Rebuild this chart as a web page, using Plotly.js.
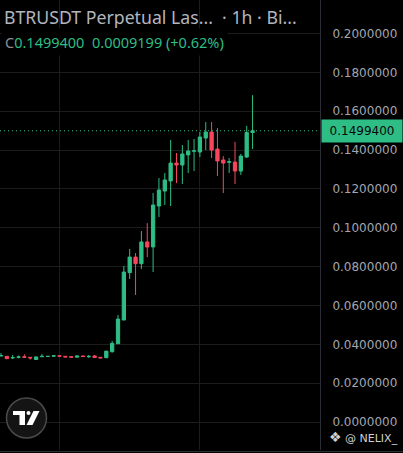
<!DOCTYPE html>
<html><head><meta charset="utf-8">
<script src="https://cdn.plot.ly/plotly-3.0.1.min.js"></script>
<style>html,body{margin:0;padding:0;background:#000;overflow:hidden}</style>
</head><body><div id="chart" style="width:403px;height:453px"></div>
<script>
// ---- data (1h candles) ----
const times = [
 '2025-06-01 14:00','2025-06-01 15:00','2025-06-01 16:00','2025-06-01 17:00','2025-06-01 18:00',
 '2025-06-01 19:00','2025-06-01 20:00','2025-06-01 21:00','2025-06-01 22:00','2025-06-01 23:00',
 '2025-06-02 00:00','2025-06-02 01:00','2025-06-02 02:00','2025-06-02 03:00','2025-06-02 04:00',
 '2025-06-02 05:00','2025-06-02 06:00','2025-06-02 07:00','2025-06-02 08:00','2025-06-02 09:00',
 '2025-06-02 10:00','2025-06-02 11:00','2025-06-02 12:00','2025-06-02 13:00','2025-06-02 14:00',
 '2025-06-02 15:00','2025-06-02 16:00','2025-06-02 17:00','2025-06-02 18:00','2025-06-02 19:00',
 '2025-06-02 20:00','2025-06-02 21:00','2025-06-02 22:00','2025-06-02 23:00','2025-06-03 00:00',
 '2025-06-03 01:00','2025-06-03 02:00','2025-06-03 03:00','2025-06-03 04:00','2025-06-03 05:00',
 '2025-06-03 06:00','2025-06-03 07:00','2025-06-03 08:00','2025-06-03 09:00'
];
const open = [
 0.0340,0.0338,0.0330,0.0333,0.0336,0.0333,0.0322,0.0336,0.0337,0.0339,
 0.0341,0.0338,0.0336,0.0334,0.0340,0.0336,0.0340,0.0333,0.0331,0.0362,
 0.0403,0.0525,0.0769,0.0849,0.0815,0.0927,0.0901,0.1112,0.1189,0.1241,
 0.1333,0.1323,0.1375,0.1394,0.1390,0.1462,0.1493,0.1405,0.1349,0.1337,
 0.1338,0.1292,0.1364,0.14902
];
const high = [
 0.0355,0.0340,0.0345,0.0342,0.0348,0.0334,0.0336,0.0350,0.0340,0.0342,
 0.0342,0.0339,0.0337,0.0341,0.0341,0.0345,0.0345,0.0334,0.0366,0.0417,
 0.0551,0.0803,0.0891,0.0870,0.0983,0.1024,0.1179,0.1256,0.1282,0.1452,
 0.1385,0.1426,0.1452,0.1457,0.1493,0.1544,0.1544,0.1513,0.1369,0.1359,
 0.1442,0.1380,0.1524,0.1683
];
const low = [
 0.0338,0.0325,0.0324,0.0328,0.0331,0.0322,0.0321,0.0335,0.0336,0.0338,
 0.0338,0.0334,0.0333,0.0333,0.0336,0.0330,0.0331,0.0329,0.0329,0.0357,
 0.0402,0.0525,0.0736,0.0654,0.0788,0.0849,0.0772,0.1055,0.1117,0.1112,
 0.1230,0.1225,0.1282,0.1292,0.1364,0.1400,0.1359,0.1266,0.1179,0.1282,
 0.1225,0.1272,0.1359,0.1405
];
const close = [
 0.0342,0.0326,0.0332,0.0335,0.0333,0.0330,0.0335,0.0338,0.0338,0.0341,
 0.0339,0.0335,0.0334,0.0340,0.0337,0.0338,0.0332,0.0330,0.0365,0.0405,
 0.0530,0.0772,0.0849,0.0815,0.0927,0.0901,0.1117,0.1194,0.1246,0.1333,
 0.1323,0.1380,0.1395,0.1396,0.1467,0.1493,0.1400,0.1344,0.1333,0.1340,
 0.1292,0.1369,0.14902,0.14994
];
const yTicks = [0,0.02,0.04,0.06,0.08,0.10,0.12,0.14,0.16,0.18,0.20];
const symbolTitle = 'BTRUSDT Perpetual Las...  \u00b7 1h \u00b7 Bi...';
const lastPrice = 0.14994;
const change = 0.0009199;
const changePct = 0.62;
const watermarkIcon = '\u2756';
const watermarkText = ' @ NELIX_';

// ---- style ----
const GREEN = '#2ebd85', RED = '#f6465d', GRID = '#1c1c1c', AXIS = '#2b2e36';
const W = 403, H = 453, PW = 320, PH = 450;
const px = x => x / PW, py = y => 1 - y / PH;

const trace = {
  type: 'candlestick', x: times, open: open, high: high, low: low, close: close,
  increasing: {line: {color: GREEN, width: 1}, fillcolor: GREEN},
  decreasing: {line: {color: RED, width: 1}, fillcolor: RED},
  whiskerwidth: 0, hoverinfo: 'skip', showlegend: false
};

const P = (x, y) => px(x) + ',' + py(y);
const shapes = [
  {type: 'line', xref: 'paper', x0: 0, x1: 1, yref: 'y', y0: lastPrice, y1: lastPrice,
   line: {color: GREEN, width: 1, dash: '1px,3px'}},
  {type: 'line', xref: 'paper', x0: 0, x1: px(W), yref: 'paper', y0: py(451.5), y1: py(451.5),
   line: {color: AXIS, width: 1}},
  {type: 'circle', xref: 'paper', yref: 'paper', x0: px(6.5), x1: px(46.5), y0: py(398), y1: py(438),
   fillcolor: '#141414', line: {color: '#4a4a4a', width: 1.5}},
  {type: 'path', xref: 'paper', yref: 'paper', fillcolor: '#ffffff', line: {width: 0},
   path: 'M' + P(13, 411) + 'L' + P(25, 411) + 'L' + P(25, 425) + 'L' + P(19.5, 425) + 'L' + P(19.5, 415) + 'L' + P(13, 415) + 'Z'},
  {type: 'circle', xref: 'paper', yref: 'paper', x0: px(26.5), x1: px(30.5), y0: py(411), y1: py(415),
   fillcolor: '#ffffff', line: {width: 0}},
  {type: 'path', xref: 'paper', yref: 'paper', fillcolor: '#ffffff', line: {width: 0},
   path: 'M' + P(33.5, 411) + 'L' + P(39.5, 411) + 'L' + P(32.5, 425) + 'L' + P(26.5, 425) + 'Z'}
];

const annotations = [
  {xref: 'paper', yref: 'paper', x: px(2), y: py(17), xanchor: 'left', yanchor: 'middle',
   text: symbolTitle, showarrow: false, font: {family: 'Noto Sans', size: 17.7, color: '#b2b5be'}},
  {xref: 'paper', yref: 'paper', x: px(1), y: py(42), xanchor: 'left', yanchor: 'middle',
   text: '<span style="color:#8a8d96">C</span>' + lastPrice.toFixed(7) + '  ' + change.toFixed(7) +
         ' (+' + changePct.toFixed(2) + '%)',
   showarrow: false, bgcolor: '#000', borderpad: 3,
   font: {family: 'Noto Sans', size: 14.5, color: GREEN}},
  {xref: 'paper', yref: 'y', x: px(321), y: lastPrice, xanchor: 'left', yanchor: 'middle',
   text: lastPrice.toFixed(7), showarrow: false, bgcolor: GREEN, width: 76, height: 18, borderpad: 2,
   align: 'center', font: {family: 'DejaVu Sans', size: 12, color: '#0a0a0a'}},
  {xref: 'paper', yref: 'paper', x: px(327), y: py(437), xanchor: 'left', yanchor: 'middle',
   text: '<span style="font-size:14px">' + watermarkIcon + '</span>' + watermarkText, showarrow: false,
   font: {family: 'DejaVu Sans', size: 11, color: '#d0d0d0'}}
];

const layout = {
  width: W, height: H,
  margin: {l: 0, r: W - PW, t: 0, b: H - PH, pad: 0},
  paper_bgcolor: '#000', plot_bgcolor: '#000',
  boxgap: 0.2,
  xaxis: {type: 'date', range: ['2025-06-01 13:49:44', '2025-06-03 20:31:48'],
          rangeslider: {visible: false}, showticklabels: false, ticks: '',
          tick0: '2025-06-02 00:00', dtick: 86400000, showgrid: true, gridcolor: GRID,
          zeroline: false, showline: false, fixedrange: true},
  yaxis: {side: 'right', range: [-0.01441, 0.21725], tickvals: yTicks,
          tickformat: '.7f', showgrid: true, gridcolor: GRID, zeroline: false,
          showline: true, linecolor: AXIS, linewidth: 1, ticks: '', ticklabelstandoff: 9,
          tickfont: {family: 'DejaVu Sans', size: 12, color: '#a3a6af'}, fixedrange: true},
  shapes: shapes, annotations: annotations, showlegend: false
};

Plotly.newPlot('chart', [trace], layout, {staticPlot: true, displayModeBar: false});
</script></body></html>
